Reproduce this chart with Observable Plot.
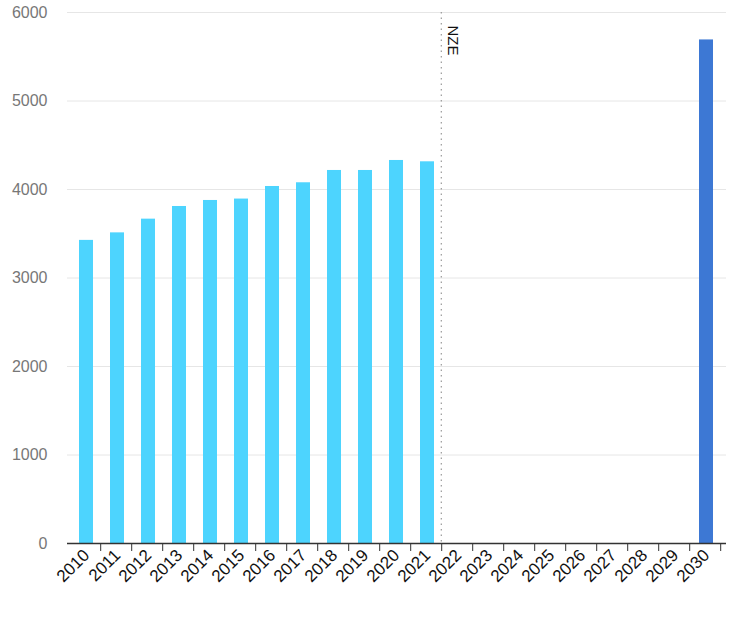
<!DOCTYPE html>
<html>
<head>
<meta charset="utf-8">
<script src="https://cdn.jsdelivr.net/npm/d3@7"></script>
<script src="https://cdn.jsdelivr.net/npm/@observablehq/plot@0.6"></script>
<style>
  html, body { margin: 0; padding: 0; background: #fff; }
  #chart { font-family: "Liberation Sans", Arial, sans-serif; }
</style>
</head>
<body>
<div id="chart"></div>
<script>
const years = ["2010","2011","2012","2013","2014","2015","2016","2017","2018","2019","2020","2021",
               "2022","2023","2024","2025","2026","2027","2028","2029","2030"];
const histYears = ["2010","2011","2012","2013","2014","2015","2016","2017","2018","2019","2020","2021"];
const histValues = [3425, 3510, 3665, 3808, 3876, 3892, 4034, 4076, 4215, 4215, 4328, 4313];
const nzeYears = ["2030"];
const nzeValues = [5690];
const yTicks = [0, 1000, 2000, 3000, 4000, 5000, 6000];
const markerYear = "2022";
const markerLabel = "NZE";

const hist = histYears.map((y, i) => ({year: y, value: histValues[i]}));
const nze = nzeYears.map((y, i) => ({year: y, value: nzeValues[i]}));

const W = 750, H = 600, mL = 67, mR = 24, mT = 12, mB = 57;
const step = (W - mL - mR) / years.length;

const chart = Plot.plot({
  width: W,
  height: H,
  marginLeft: mL,
  marginRight: mR,
  marginTop: mT,
  marginBottom: mB,
  style: {fontFamily: "Liberation Sans, Arial, sans-serif", fontSize: "15px", background: "#fff"},
  x: {type: "band", domain: years, paddingInner: 0.54, paddingOuter: 0.27, label: null},
  y: {domain: [0, 6000], label: null},
  marks: [
    Plot.gridY(yTicks, {stroke: "#e6e6e6", strokeOpacity: 1}),
    Plot.axisY(yTicks, {tickSize: 0, tickPadding: 20, fill: "#777", fontSize: 16, label: null, tickFormat: d => String(d)}),
    Plot.barY(hist, {x: "year", y: "value", fill: "#4dd4fe"}),
    Plot.barY(nze, {x: "year", y: "value", fill: "#3d78d4"}),
    Plot.ruleX([markerYear], {x: d => d, dx: -step / 2 - 1.5, stroke: "#999", strokeDasharray: "1.5,4", strokeWidth: 1.2}),
    Plot.text([markerLabel], {x: () => markerYear, frameAnchor: "top", rotate: 90, textAnchor: "start",
      dx: -step / 2 + 16, dy: 13, fill: "#111", fontSize: 15}),
    Plot.ruleY([0], {stroke: "#333", strokeWidth: 1.3}),
    Plot.axisX({tickSize: 8, tickFormat: () => "", dx: step / 2 - 1.5, stroke: "#333"}),
    Plot.axisX({tickSize: 0, tickRotate: -45, tickPadding: 9, fill: "#111", fontSize: 17, label: null})
  ]
});
document.getElementById("chart").appendChild(chart);
</script>
</body>
</html>
